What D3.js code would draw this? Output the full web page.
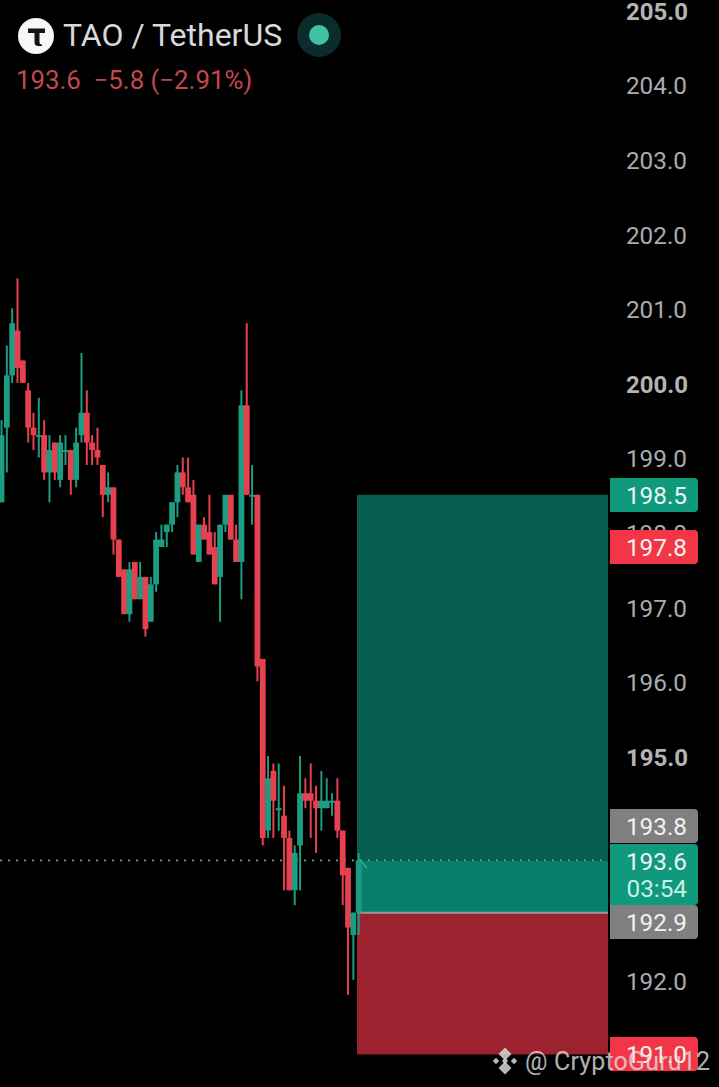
<!DOCTYPE html>
<html lang="en">
<head>
<meta charset="UTF-8">
<title>TAO / TetherUS</title>
<script src="https://d3js.org/d3.v7.min.js"></script>
<style>
  html, body { margin: 0; padding: 0; background: #000; }
  svg { display: block; }
  text { font-family: Roboto, Arial, sans-serif; }
</style>
</head>
<body>
<div id="chart"></div>
<script>
// candles (tick size 0.1)
const opens = [198.4,199.4,200.1,200.7,200.3,199.9,199.4,199.3,199.3,198.8,199.2,198.7,199.1,199.1,198.7,199.3,199.6,199.2,199.1,198.9,198.5,198.6,197.9,197.5,196.9,197.6,197.1,197.4,196.8,197.3,197.8,198.0,198.1,198.4,198.8,198.6,198.5,197.6,198.1,198.0,197.8,197.4,198.1,198.5,197.9,197.6,199.7,198.5,198.5,196.3,194.0,194.8,194.3,194.2,193.9,193.2,193.8,194.5,194.5,194.4,194.3,194.3,194.4,194.4,194.0,193.5,192.6,192.9];
const highs = [199.5,200.5,201.0,201.4,200.3,200.0,199.6,199.8,199.5,199.3,199.2,199.3,199.3,199.1,199.4,200.4,199.9,199.3,199.4,198.9,198.8,198.6,197.9,197.5,197.6,197.6,197.6,197.4,197.4,198.0,198.1,198.1,198.4,198.9,199.0,199.0,198.7,198.1,198.2,198.5,198.0,198.1,198.5,198.5,198.1,199.9,200.8,198.9,198.5,196.3,195.0,194.9,194.9,194.6,194.0,193.8,195.0,194.7,194.9,194.6,194.8,194.7,194.5,194.7,194.0,193.5,192.9,193.7];
const lows = [198.4,198.8,200.0,200.0,200.0,199.2,199.1,199.0,198.7,198.4,198.7,198.6,198.9,198.5,198.6,199.2,198.9,198.9,198.9,198.2,198.4,197.7,197.4,196.9,196.8,197.1,197.1,196.6,196.8,197.2,197.8,197.8,198.0,198.2,198.5,198.4,197.7,197.6,197.9,197.7,197.3,196.8,198.0,197.9,197.6,197.1,198.5,198.1,196.0,193.8,193.9,193.9,194.0,193.2,193.2,193.0,193.2,194.3,193.9,193.7,194.0,194.3,194.2,193.9,193.0,191.8,192.0,192.6];
const closes = [199.3,200.1,200.8,200.2,200.0,199.4,199.3,199.3,198.8,199.1,198.8,199.2,199.1,198.7,199.2,199.6,199.2,199.1,199.0,198.5,198.6,197.9,197.4,196.9,197.5,197.1,197.4,196.7,197.3,197.9,197.9,198.1,198.4,198.8,198.6,198.4,197.7,198.1,197.9,197.7,197.3,198.1,198.5,197.9,197.6,199.7,198.5,198.5,196.2,193.9,194.7,194.4,194.3,193.9,193.2,193.7,194.5,194.4,194.4,194.3,194.4,194.4,194.4,194.0,193.4,192.7,192.9,193.6];

const plainTicks = [204, 203, 202, 201, 199, 198, 197, 196, 194, 193, 192, 191];
const boldTicks = [205, 200, 195];

// long position tool
const target = 198.5, entry = 192.9, stop = 191.0, last = 193.6;

// axis tags: price, colour, second line
const tagPrices = [198.5, 197.8, 193.8, 193.6, 192.9, 191.0];
const tagColors = ["#0f9a7e", "#f23645", "#808080", "#0f9a7e", "#808080", "#f23645"];
const tagLower = ["", "", "", "03:54", "", ""];

const width = 719, height = 1087;
const up = "#1c9c82", down = "#e6414f";

const svg = d3.select("#chart").append("svg")
  .attr("width", width).attr("height", height)
  .style("background", "#000");

const y = d3.scaleLinear().domain([205, 192]).range([9.8, 979.8]);
const x = d3.scaleLinear().domain([0, 67]).range([1.5, 358.7]);
const boxX = d3.scaleLinear().domain([0, 1]).range([357, 608]);
const fmt = d3.format(".1f");

// position boxes
const boxes = [
  { from: target, to: last, fill: "#055e50" },
  { from: last, to: entry, fill: "#087f6b" },
  { from: entry, to: stop, fill: "#9b222e" }
];
svg.selectAll("rect.box").data(boxes).enter().append("rect")
  .attr("class", "box")
  .attr("x", boxX(0)).attr("width", boxX(1) - boxX(0))
  .attr("y", d => y(d.from))
  .attr("height", d => y(d.to) - y(d.from))
  .attr("fill", d => d.fill);

svg.append("line")
  .attr("x1", boxX(0)).attr("x2", boxX(1))
  .attr("y1", y(entry)).attr("y2", y(entry))
  .attr("stroke", "#9a9a9a").attr("stroke-width", 2);

// last price line
svg.append("line")
  .attr("x1", 0).attr("x2", boxX(1))
  .attr("y1", y(last)).attr("y2", y(last))
  .attr("stroke", "#4fae9c").attr("stroke-width", 1.6)
  .attr("stroke-dasharray", "2 6");

// candles
const candles = d3.range(opens.length);
const color = i => closes[i] >= opens[i] ? up : down;

svg.selectAll("line.wick").data(candles).enter().append("line")
  .attr("class", "wick")
  .attr("x1", x).attr("x2", x)
  .attr("y1", i => y(highs[i])).attr("y2", i => y(lows[i]))
  .attr("stroke", color).attr("stroke-width", 2);

svg.selectAll("rect.body").data(candles).enter().append("rect")
  .attr("class", "body")
  .attr("x", i => x(i) - 2.9).attr("width", 5.8)
  .attr("y", i => y(Math.max(opens[i], closes[i])))
  .attr("height", i => Math.max(2, Math.abs(y(opens[i]) - y(closes[i]))))
  .attr("fill", color);

// small mark on the last candle
svg.append("path")
  .attr("d", d3.line()([[359, 859], [367, 868]]))
  .attr("stroke", "#4f9f90").attr("stroke-width", 1.4).attr("fill", "none");

// price axis
const tickLabels = svg.append("g").attr("text-anchor", "end");
tickLabels.selectAll("text.plain").data(plainTicks).enter().append("text")
  .attr("class", "plain")
  .attr("x", 687).attr("y", d => y(d) + 10)
  .attr("font-size", 24.3).attr("fill", "#a9abb0")
  .text(fmt);
tickLabels.selectAll("text.bold").data(boldTicks).enter().append("text")
  .attr("class", "bold")
  .attr("x", 688).attr("y", d => y(d) + 10)
  .attr("font-size", 24).attr("font-weight", 700).attr("fill", "#b4b4b4")
  .text(fmt);

// axis tags
const tagH = i => tagLower[i] ? 61 : 34;
const tagPath = (x0, y0, w, h, r) =>
  `M${x0},${y0}H${x0 + w - r}Q${x0 + w},${y0} ${x0 + w},${y0 + r}V${y0 + h - r}Q${x0 + w},${y0 + h} ${x0 + w - r},${y0 + h}H${x0}Z`;
const tagYs = [478, 530, 809, 844, 905, 1037];

const tags = svg.selectAll("g.tag").data(tagPrices).enter().append("g").attr("class", "tag");
tags.append("path")
  .attr("d", (d, i) => tagPath(610, tagYs[i], 88, tagH(i), 4))
  .attr("fill", (d, i) => tagColors[i]);
tags.append("text")
  .attr("x", 687).attr("text-anchor", "end")
  .attr("y", (d, i) => tagYs[i] + 26)
  .attr("font-size", 24.3).attr("fill", "#f2f2f2")
  .text(fmt);
tags.filter((d, i) => tagLower[i]).append("text")
  .attr("x", 687).attr("text-anchor", "end")
  .attr("y", 897)
  .attr("font-size", 24.3).attr("fill", "#c9efe6")
  .text("03:54");

// header
svg.append("circle").attr("cx", 36).attr("cy", 36).attr("r", 18).attr("fill", "#f7f7fa");
svg.append("path")
  .attr("d", "M28,28.5H45V33H39.5V42Q39.5,44.5 42,44.5V46H38Q34.5,46 34.5,42V33H28Z")
  .attr("fill", "#131313");
svg.append("text").attr("x", 63).attr("y", 46)
  .attr("font-size", 32).attr("fill", "#d8d9dc")
  .text("TAO / TetherUS");
svg.append("text").attr("x", 16).attr("y", 89)
  .attr("font-size", 25.8).attr("fill", "#c4474f")
  .style("white-space", "pre")
  .text("193.6  −5.8 (−2.91%)");
svg.append("circle").attr("cx", 319).attr("cy", 35).attr("r", 22).attr("fill", "#0b2c2a");
svg.append("circle").attr("cx", 319).attr("cy", 35).attr("r", 10).attr("fill", "#3fc1a8");

// watermark
const mark = svg.append("g").attr("fill", "#d8d8d8").attr("fill-opacity", 0.85);
[[505, 1054, 6.5], [496, 1061, 3.2], [514, 1061, 3.2], [505, 1061, 3.2], [505, 1068, 6.5]].forEach(([cx, cy, r]) => {
  mark.append("path").attr("d", `M${cx},${cy - r}L${cx + r},${cy}L${cx},${cy + r}L${cx - r},${cy}Z`);
});
svg.append("text").attr("x", 525).attr("y", 1070)
  .attr("font-size", 25).attr("fill", "#e0e0e0").attr("fill-opacity", 0.8)
  .attr("textLength", 185)
  .text("@ CryptoGuru12");
</script>
</body>
</html>
